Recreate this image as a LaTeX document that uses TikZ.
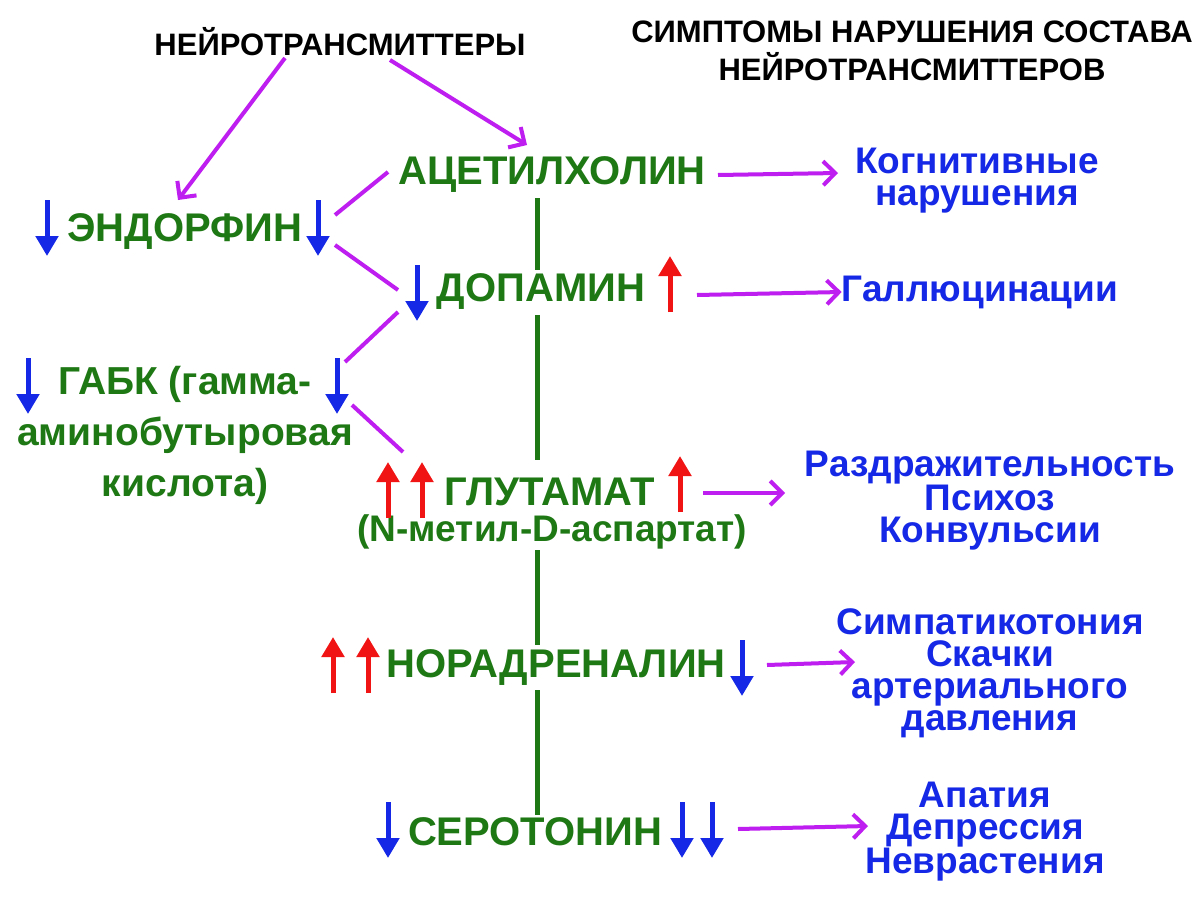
\documentclass[tikz,border=0pt]{standalone}
\usepackage{fontspec}
\setmainfont{Liberation Sans}
\usetikzlibrary{arrows.meta}
\definecolor{gr}{RGB}{30,120,20}
\definecolor{bl}{RGB}{20,40,230}
\definecolor{pu}{RGB}{190,30,240}
\definecolor{rd}{RGB}{240,20,20}
\tikzset{
 g/.style={text=gr,font=\fontsize{40}{42}\selectfont\bfseries,inner sep=0pt},
 b/.style={text=bl,font=\fontsize{37}{32}\selectfont\bfseries,inner sep=0pt,align=center},
 k/.style={text=black,font=\fontsize{31}{38}\selectfont\bfseries,inner sep=0pt,align=center},
 pa/.style={pu,line width=4pt,-{Straight Barb[length=12pt,width=24pt,line width=4pt]}},
 pl/.style={pu,line width=4pt},
 dn/.style={bl,line width=5pt,-{Triangle[length=20pt,width=22pt]}},
 up/.style={rd,line width=5pt,-{Triangle[length=20pt,width=22pt]}},
 gl/.style={gr,line width=5pt}
}
\begin{document}
\begin{tikzpicture}[x=1pt,y=-1pt]
\useasboundingbox[fill=white] (0,0) rectangle (1200,900);
\node[k] (nt) at (340,42) {НЕЙРОТРАНСМИТТЕРЫ};
\node[k] (sy) at (912,51) {СИМПТОМЫ НАРУШЕНИЯ СОСТАВА\\НЕЙРОТРАНСМИТТЕРОВ};
\coordinate (n1) at (285,58); \coordinate (n2) at (178,200);
\coordinate (n3) at (390,60); \coordinate (n4) at (527,145);
\draw[pa] (n1)--(n2); \draw[pa] (n3)--(n4);
\node[g] (ach) at (552,175) {АЦЕТИЛХОЛИН};
\node[g] (end) at (185,232) {ЭНДОРФИН};
\node[g] (dop) at (541,292) {ДОПАМИН};
\node[g,align=center,font=\fontsize{39}{51}\selectfont\bfseries] (gab) at (185,435) {ГАБК (гамма-\\аминобутыровая\\кислота)};
\node[g] (glu) at (550,492) {ГЛУТАМАТ};
\node[g,font=\fontsize{37}{32}\selectfont\bfseries] (nm) at (552,532) {(N-метил-D-аспартат)};
\node[g] (nor) at (556,668) {НОРАДРЕНАЛИН};
\node[g] (ser) at (535,832) {СЕРОТОНИН};
% green spine
\foreach \a/\bb in {198/270,315/460,550/645,690/815}{\coordinate (s1) at (537,\a); \coordinate (s2) at (537,\bb); \draw[gl] (s1)--(s2);}
% purple links
\foreach \x/\y/\u/\v in {335/215/388/172, 335/245/398/290, 398/312/345/362, 352/405/403/452}{\coordinate (p1) at (\x,\y); \coordinate (p2) at (\u,\v); \draw[pl] (p1)--(p2);}
% up/down arrows
\foreach \x/\t in {47/200,318/200,417/265,28/358,337/358,388/802,682/802,712/802,742/640}{\coordinate (d1) at (\x,\t); \coordinate (d2) at (\x,\t+56); \draw[dn] (d1)--(d2);}
\foreach \x/\t in {670/312,388/518,422/518,680/512,333/693,368/693}{\coordinate (u1) at (\x,\t); \coordinate (u2) at (\x,\t-56); \draw[up] (u1)--(u2);}
% symptoms
\node[b] (s1t) at (977,181) {Когнитивные\\нарушения};
\node[b] (s2t) at (980,292) {Галлюцинации};
\node[b] (s3t) at (990,501) {Раздражительность\\Психоз\\Конвульсии};
\node[b] (s4t) at (990,673) {Симпатикотония\\Скачки\\артериального\\давления};
\node[b] (s5t) at (985,832) {Апатия\\Депрессия\\Неврастения};
\coordinate (a1) at (718,175); \coordinate (a2) at (838,173);
\draw[pa] (a1) -- (a2);
\draw[pa] (697,295) -- (s2t.west);
\draw[pa] (703,493) -- (785,493);
\draw[pa] (767,665) -- (855,662);
\draw[pa] (738,829) -- (868,826);
\end{tikzpicture}
\end{document}
